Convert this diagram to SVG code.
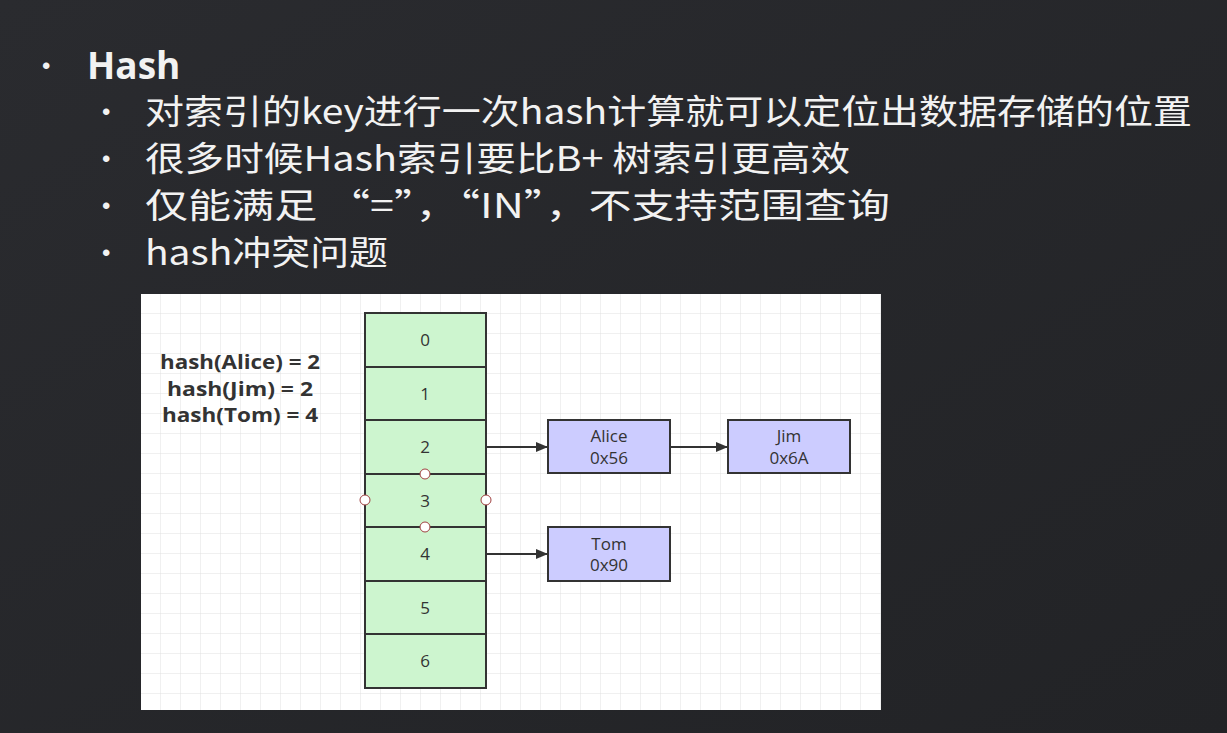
<svg xmlns="http://www.w3.org/2000/svg" width="1227" height="733" viewBox="0 0 1227 733">
<defs>
<pattern id="grid" x="141" y="294" width="20" height="20" patternUnits="userSpaceOnUse">
<path d="M20 0V20H0" fill="none" stroke="#e0e0e0" stroke-width="1"/>
</pattern>
<marker id="ah" markerWidth="12" markerHeight="10" refX="11" refY="5" orient="auto" markerUnits="userSpaceOnUse">
<path d="M0 0L12 5L0 10Z" fill="#333"/>
</marker>
<linearGradient id="bg" x1="0" y1="0" x2="1" y2="1"><stop offset="0" stop-color="#2a2b2f"/><stop offset="1" stop-color="#222326"/></linearGradient>
</defs>
<style>
.t{fill:#f2f2f2;font-family:"Noto Sans CJK SC","Noto Sans",sans-serif;font-size:34px}
.b{fill:#f2f2f2;font-family:"Liberation Sans",sans-serif;font-size:24px}
.cell{fill:#cdf5cf;stroke:#333;stroke-width:2}
.n{fill:#ccccff;stroke:#333;stroke-width:2}
.lb{font-family:"Open Sans","Noto Sans",sans-serif;font-size:17px;fill:#333;text-anchor:middle}
.h{font-family:"Open Sans","Noto Sans",sans-serif;font-size:20px;font-weight:bold;fill:#333;text-anchor:middle}
.c{fill:#fff;stroke:#a04040;stroke-width:1}
</style>
<rect width="1227" height="733" fill="url(#bg)"/>
<g id="text">
<text x="42" y="74" class="b">•</text>
<text x="87" y="79" class="t" style="font-size:37px;font-weight:bold;font-family:'Open Sans','Noto Sans',sans-serif">Hash</text>
<text x="102" y="120" class="b">•</text>
<text x="145" y="124" class="t" textLength="1047" lengthAdjust="spacingAndGlyphs">对索引的key进行一次hash计算就可以定位出数据存储的位置</text>
<text x="102" y="167" class="b">•</text>
<text x="145" y="171" class="t" textLength="705" lengthAdjust="spacingAndGlyphs">很多时候Hash索引要比B+ 树索引更高效</text>
<text x="102" y="214" class="b">•</text>
<text x="145" y="218" class="t" textLength="745" lengthAdjust="spacingAndGlyphs">仅能满足 “=”，“IN”，不支持范围查询</text>
<text x="102" y="261" class="b">•</text>
<text x="145" y="265" class="t" textLength="243" lengthAdjust="spacingAndGlyphs">hash冲突问题</text>
</g>
<rect x="141" y="294" width="740" height="416" fill="#fff"/>
<rect x="141" y="294" width="740" height="416" fill="url(#grid)"/>
<g id="formulas">
<text x="240" y="369" class="h" textLength="160" lengthAdjust="spacingAndGlyphs">hash(Alice) = 2</text>
<text x="240" y="396" class="h" textLength="146" lengthAdjust="spacingAndGlyphs">hash(Jim) = 2</text>
<text x="240" y="422" class="h" textLength="156" lengthAdjust="spacingAndGlyphs">hash(Tom) = 4</text>
</g>
<g id="table">
<g id="c0"><rect x="365" y="313" width="121" height="54" class="cell"/><text x="425" y="346" class="lb">0</text></g>
<g id="c1"><rect x="365" y="367" width="121" height="53" class="cell"/><text x="425" y="400" class="lb">1</text></g>
<g id="c2"><rect x="365" y="420" width="121" height="54" class="cell"/><text x="425" y="453" class="lb">2</text></g>
<g id="c3"><rect x="365" y="474" width="121" height="53" class="cell"/><text x="425" y="507" class="lb">3</text></g>
<g id="c4"><rect x="365" y="527" width="121" height="54" class="cell"/><text x="425" y="560" class="lb">4</text></g>
<g id="c5"><rect x="365" y="581" width="121" height="53" class="cell"/><text x="425" y="614" class="lb">5</text></g>
<g id="c6"><rect x="365" y="634" width="121" height="54" class="cell"/><text x="425" y="667" class="lb">6</text></g>
<circle cx="425" cy="474" r="5" class="c"/><circle cx="425" cy="527" r="5" class="c"/>
<circle cx="365" cy="500" r="5" class="c"/><circle cx="486" cy="500" r="5" class="c"/>
</g>
<g id="alice"><rect x="548" y="420" width="122" height="53" class="n"/><text x="609" y="442" class="lb">Alice</text><text x="609" y="464" class="lb">0x56</text></g>
<g id="jim"><rect x="728" y="420" width="122" height="53" class="n"/><text x="789" y="442" class="lb">Jim</text><text x="789" y="464" class="lb">0x6A</text></g>
<g id="tom"><rect x="548" y="527" width="122" height="54" class="n"/><text x="609" y="550" class="lb">Tom</text><text x="609" y="571" class="lb">0x90</text></g>
<g id="connectors" stroke="#333" stroke-width="2" fill="none">
<line x1="487" y1="447" x2="547" y2="447" marker-end="url(#ah)"/>
<line x1="671" y1="447" x2="727" y2="447" marker-end="url(#ah)"/>
<line x1="487" y1="554" x2="547" y2="554" marker-end="url(#ah)"/>
</g>
</svg>
